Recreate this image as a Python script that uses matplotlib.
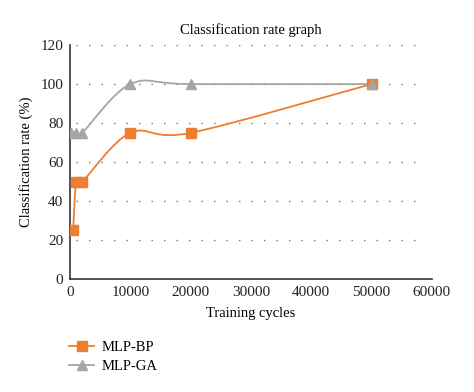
import matplotlib.pyplot as plt
from matplotlib.path import Path
from matplotlib.patches import PathPatch
from matplotlib.lines import Line2D

plt.rcParams['font.family'] = ['Liberation Serif', 'DejaVu Serif']

# data
bp_x = [500, 1000, 2000, 10000, 20000, 50000]
bp_y = [25, 50, 50, 75, 75, 100]
ga_x = [100, 1000, 2000, 10000, 20000, 50000]
ga_y = [75, 75, 75, 100, 100, 100]
series_names = ['MLP-BP', 'MLP-GA']
series_colors = ['#ED7D31', '#A5A5A5']


def smooth_path(xs, ys, t=0.5 / 3):
    # excel-like smoothed line, bezier segments through the points
    verts = [(xs[0], ys[0])]
    codes = [Path.MOVETO]
    n = len(xs)
    for i in range(n - 1):
        x0, y0 = (xs[i - 1], ys[i - 1]) if i > 0 else (xs[i], ys[i])
        x1, y1 = xs[i], ys[i]
        x2, y2 = xs[i + 1], ys[i + 1]
        x3, y3 = (xs[i + 2], ys[i + 2]) if i + 2 < n else (x2, y2)
        c1 = (x1 + (x2 - x0) * t, y1 + (y2 - y0) * t)
        c2 = (x2 - (x3 - x1) * t, y2 - (y3 - y1) * t)
        verts += [c1, c2, (x2, y2)]
        codes += [Path.CURVE4] * 3
    return Path(verts, codes)


fig = plt.figure(figsize=(4.74, 3.92), dpi=100)
ax = fig.add_axes([0.148, 0.288, 0.763, 0.597])

handles = []
for xs, ys, name, col, mk in [(bp_x, bp_y, series_names[0], series_colors[0], 's'),
                              (ga_x, ga_y, series_names[1], series_colors[1], '^')]:
    ax.add_patch(PathPatch(smooth_path(xs, ys), fill=False, edgecolor=col, lw=1.3, zorder=3))
    ax.plot(xs, ys, linestyle='none', marker=mk, color=col, markersize=7.5, zorder=4)
    handles.append(Line2D([], [], color=col, marker=mk, markersize=7.5, lw=1.3, label=name))

ax.set_xlim(0, 60000)
ax.set_ylim(0, 120)
ax.set_xticks(range(0, 60001, 10000))
ax.set_yticks(range(0, 121, 20))
for y in range(20, 121, 20):
    ax.plot([1000, 59000], [y, y], color='#777777', lw=1.0, linestyle=(0, (1, 8)), zorder=1)

for s in ['top', 'right']:
    ax.spines[s].set_visible(False)
for s in ['left', 'bottom']:
    ax.spines[s].set_color('#333333')
    ax.spines[s].set_linewidth(1.2)
ax.tick_params(length=0, labelsize=11, pad=5, colors='#222222')

ax.set_title('Classification rate graph', fontsize=10.5, pad=8)
ax.set_xlabel('Training cycles', fontsize=10.5, labelpad=6)
ax.set_ylabel('Classification rate (%)', fontsize=10.5, labelpad=5)

fig.legend(handles=handles, loc='upper left', bbox_to_anchor=(0.134, 0.145),
           frameon=False, fontsize=10.5, handlelength=1.7, labelspacing=0.4,
           borderaxespad=0, handletextpad=0.5)

fig.savefig('out.png', dpi=100)
